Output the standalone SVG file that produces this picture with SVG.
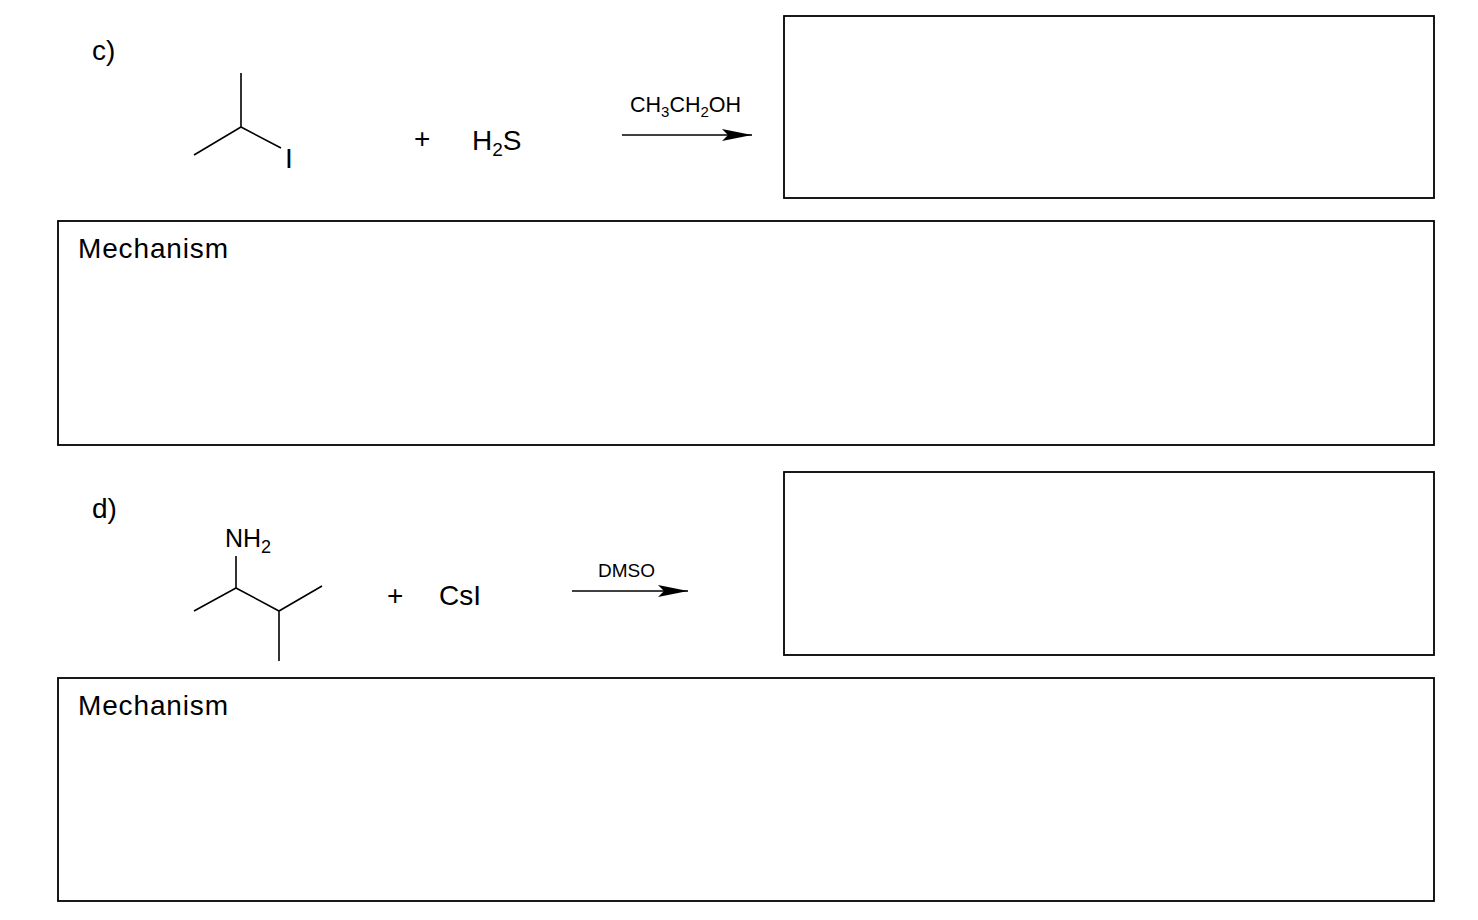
<svg xmlns="http://www.w3.org/2000/svg" width="1478" height="920" viewBox="0 0 1478 920">
<style>
text{font-family:"Liberation Sans",Arial,sans-serif;fill:#000}
.b{fill:none;stroke:#000;stroke-width:1.6}
.box{fill:none;stroke:#000;stroke-width:1.8}
.t{font-size:28px}
</style>
<defs><marker id="ah" markerWidth="30" markerHeight="12" refX="30" refY="6" orient="auto" markerUnits="userSpaceOnUse"><path d="M0,0 L30,6 L0,12 L6,6 Z" fill="#000"/></marker></defs>
<rect width="1478" height="920" fill="#fff"/>
<g id="partc">
<text x="92" y="60" class="t">c)</text>
<path class="b" d="M241,73 V127 L194,155 M241,127 L281,148"/>
<text x="285" y="168" class="t">I</text>
<text x="414" y="148" class="t">+</text>
<text x="472" y="150" class="t">H<tspan font-size="19" dy="6">2</tspan><tspan dy="-6">S</tspan></text>
<text x="630" y="112" font-size="21.5">CH<tspan font-size="15" dy="5">3</tspan><tspan dy="-5">CH</tspan><tspan font-size="15" dy="5">2</tspan><tspan dy="-5">OH</tspan></text>
<line class="b" x1="622" y1="135" x2="752" y2="135" marker-end="url(#ah)"/>
<rect class="box" x="784" y="16" width="650" height="182"/>
<rect class="box" x="58" y="221" width="1376" height="224"/>
<text x="78" y="258" class="t" textLength="150">Mechanism</text>
</g>
<g id="partd">
<text x="92" y="518" class="t">d)</text>
<text x="225" y="547" font-size="25">NH<tspan font-size="18" dy="6">2</tspan></text>
<path class="b" d="M236,556 V588 L194,611 M236,588 L279,611 L322,586 M279,611 V661"/>
<text x="387" y="605" class="t">+</text>
<text x="439" y="605" class="t">CsI</text>
<text x="598" y="577" font-size="19">DMSO</text>
<line class="b" x1="572" y1="591" x2="688" y2="591" marker-end="url(#ah)"/>
<rect class="box" x="784" y="472" width="650" height="183"/>
<rect class="box" x="58" y="678" width="1376" height="223"/>
<text x="78" y="715" class="t" textLength="150">Mechanism</text>
</g>
</svg>
